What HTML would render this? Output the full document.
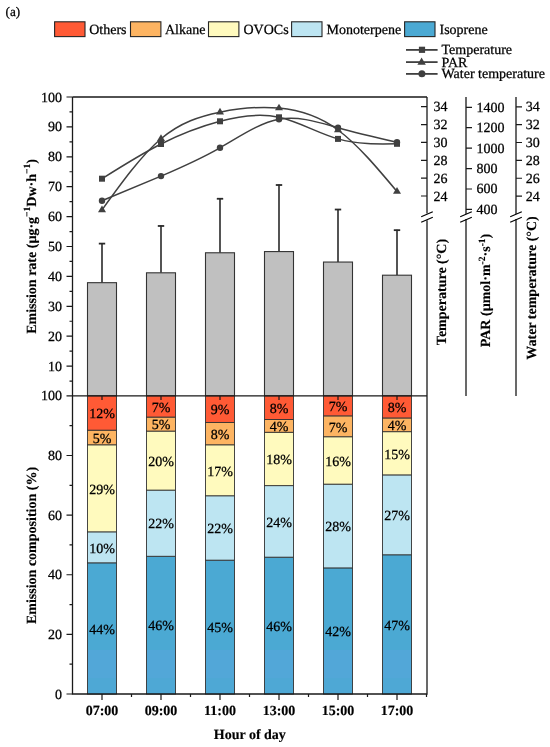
<!DOCTYPE html>
<html><head><meta charset="utf-8"><style>html,body{margin:0;padding:0;background:#fff;width:550px;height:747px;overflow:hidden}</style></head><body>
<svg width="550" height="747" viewBox="0 0 550 747" style="display:block;will-change:transform">
<rect width="550" height="747" fill="#fff"/>
<text x="5.6" y="16" font-family="Liberation Serif" text-rendering="geometricPrecision" stroke="#000" stroke-width="0.25" font-size="13.2" fill="#000">(a)</text>
<rect x="54.6" y="21.8" width="30.4" height="14.8" fill="#FF5A35" stroke="#262626" stroke-width="1.1"/>
<text x="89.2" y="34" font-family="Liberation Serif" text-rendering="geometricPrecision" stroke="#000" stroke-width="0.25" font-size="14" fill="#000">Others</text>
<rect x="130.5" y="21.8" width="30.4" height="14.8" fill="#FDB462" stroke="#262626" stroke-width="1.1"/>
<text x="165" y="34" font-family="Liberation Serif" text-rendering="geometricPrecision" stroke="#000" stroke-width="0.25" font-size="14" fill="#000">Alkane</text>
<rect x="208.5" y="21.8" width="30.4" height="14.8" fill="#FFFABE" stroke="#262626" stroke-width="1.1"/>
<text x="243.5" y="34" font-family="Liberation Serif" text-rendering="geometricPrecision" stroke="#000" stroke-width="0.25" font-size="14" fill="#000">OVOCs</text>
<rect x="291.6" y="21.8" width="30.4" height="14.8" fill="#BDE5F2" stroke="#262626" stroke-width="1.1"/>
<text x="326.5" y="34" font-family="Liberation Serif" text-rendering="geometricPrecision" stroke="#000" stroke-width="0.25" font-size="14" fill="#000">Monoterpene</text>
<rect x="404.6" y="21.8" width="30.4" height="14.8" fill="#4BA9D3" stroke="#262626" stroke-width="1.1"/>
<text x="439.5" y="34" font-family="Liberation Serif" text-rendering="geometricPrecision" stroke="#000" stroke-width="0.25" font-size="14" fill="#000">Isoprene</text>
<line x1="406" y1="49.9" x2="437.6" y2="49.9" stroke="#404040" stroke-width="1.8"/>
<text x="441.5" y="54.4" font-family="Liberation Serif" text-rendering="geometricPrecision" stroke="#000" stroke-width="0.25" font-size="14" fill="#000">Temperature</text>
<line x1="406" y1="62.1" x2="437.6" y2="62.1" stroke="#404040" stroke-width="1.8"/>
<text x="441.5" y="66.6" font-family="Liberation Serif" text-rendering="geometricPrecision" stroke="#000" stroke-width="0.25" font-size="14" fill="#000">PAR</text>
<line x1="406" y1="73.9" x2="437.6" y2="73.9" stroke="#404040" stroke-width="1.8"/>
<text x="441.5" y="78.4" font-family="Liberation Serif" text-rendering="geometricPrecision" stroke="#000" stroke-width="0.25" font-size="14" fill="#000">Water temperature</text>
<rect x="418.9" y="46.7" width="6.2" height="6.2" fill="#404040"/>
<path d="M417.4,64.8 L425.8,64.8 L421.6,57.4Z" fill="#404040"/>
<circle cx="421.9" cy="73.8" r="3.5" fill="#404040"/>
<line x1="102.00" y1="282.68" x2="102.00" y2="243.21" stroke="#2a2a2a" stroke-width="1.6"/>
<line x1="98.80" y1="243.61" x2="105.20" y2="243.61" stroke="#2a2a2a" stroke-width="1.8"/>
<rect x="87.50" y="282.68" width="29" height="113.32" fill="#C0C0C0" stroke="#333" stroke-width="1.1"/>
<line x1="161.00" y1="272.81" x2="161.00" y2="225.57" stroke="#2a2a2a" stroke-width="1.6"/>
<line x1="157.80" y1="225.97" x2="164.20" y2="225.97" stroke="#2a2a2a" stroke-width="1.8"/>
<rect x="146.50" y="272.81" width="29" height="123.19" fill="#C0C0C0" stroke="#333" stroke-width="1.1"/>
<line x1="220.00" y1="252.78" x2="220.00" y2="198.36" stroke="#2a2a2a" stroke-width="1.6"/>
<line x1="216.80" y1="198.76" x2="223.20" y2="198.76" stroke="#2a2a2a" stroke-width="1.8"/>
<rect x="205.50" y="252.78" width="29" height="143.22" fill="#C0C0C0" stroke="#333" stroke-width="1.1"/>
<line x1="279.00" y1="251.58" x2="279.00" y2="184.61" stroke="#2a2a2a" stroke-width="1.6"/>
<line x1="275.80" y1="185.01" x2="282.20" y2="185.01" stroke="#2a2a2a" stroke-width="1.8"/>
<rect x="264.50" y="251.58" width="29" height="144.42" fill="#C0C0C0" stroke="#333" stroke-width="1.1"/>
<line x1="338.00" y1="262.05" x2="338.00" y2="209.12" stroke="#2a2a2a" stroke-width="1.6"/>
<line x1="334.80" y1="209.53" x2="341.20" y2="209.53" stroke="#2a2a2a" stroke-width="1.8"/>
<rect x="323.50" y="262.05" width="29" height="133.95" fill="#C0C0C0" stroke="#333" stroke-width="1.1"/>
<line x1="397.00" y1="275.20" x2="397.00" y2="229.76" stroke="#2a2a2a" stroke-width="1.6"/>
<line x1="393.80" y1="230.16" x2="400.20" y2="230.16" stroke="#2a2a2a" stroke-width="1.8"/>
<rect x="382.50" y="275.20" width="29" height="120.80" fill="#C0C0C0" stroke="#333" stroke-width="1.1"/>
<rect x="87.50" y="562.84" width="29" height="131.16" fill="#4BA9D3" stroke="#333" stroke-width="0.9"/>
<rect x="88.00" y="650" width="28" height="43.50" fill="#52A7D8"/>
<rect x="88.00" y="678" width="28" height="15.50" fill="#4EA8D5"/>
<rect x="87.50" y="531.83" width="29" height="31.00" fill="#BDE5F2" stroke="#333" stroke-width="0.9"/>
<rect x="87.50" y="444.79" width="29" height="87.05" fill="#FFFABE" stroke="#333" stroke-width="0.9"/>
<rect x="87.50" y="430.18" width="29" height="14.61" fill="#FDB462" stroke="#333" stroke-width="0.9"/>
<rect x="87.50" y="395.90" width="29" height="34.28" fill="#FF5A35" stroke="#333" stroke-width="0.9"/>
<text x="102.00" y="633.72" font-family="Liberation Serif" text-rendering="geometricPrecision" stroke="#000" stroke-width="0.25" font-size="14" text-anchor="middle" fill="#000">44%</text>
<text x="102.00" y="552.63" font-family="Liberation Serif" text-rendering="geometricPrecision" stroke="#000" stroke-width="0.25" font-size="14" text-anchor="middle" fill="#000">10%</text>
<text x="102.00" y="493.61" font-family="Liberation Serif" text-rendering="geometricPrecision" stroke="#000" stroke-width="0.25" font-size="14" text-anchor="middle" fill="#000">29%</text>
<text x="102.00" y="442.78" font-family="Liberation Serif" text-rendering="geometricPrecision" stroke="#000" stroke-width="0.25" font-size="14" text-anchor="middle" fill="#000">5%</text>
<text x="102.00" y="418.34" font-family="Liberation Serif" text-rendering="geometricPrecision" stroke="#000" stroke-width="0.25" font-size="14" text-anchor="middle" fill="#000">12%</text>
<rect x="146.50" y="556.28" width="29" height="137.72" fill="#4BA9D3" stroke="#333" stroke-width="0.9"/>
<rect x="147.00" y="650" width="28" height="43.50" fill="#52A7D8"/>
<rect x="147.00" y="678" width="28" height="15.50" fill="#4EA8D5"/>
<rect x="146.50" y="490.10" width="29" height="66.18" fill="#BDE5F2" stroke="#333" stroke-width="0.9"/>
<rect x="146.50" y="431.08" width="29" height="59.02" fill="#FFFABE" stroke="#333" stroke-width="0.9"/>
<rect x="146.50" y="417.07" width="29" height="14.01" fill="#FDB462" stroke="#333" stroke-width="0.9"/>
<rect x="146.50" y="395.90" width="29" height="21.17" fill="#FF5A35" stroke="#333" stroke-width="0.9"/>
<text x="161.00" y="630.44" font-family="Liberation Serif" text-rendering="geometricPrecision" stroke="#000" stroke-width="0.25" font-size="14" text-anchor="middle" fill="#000">46%</text>
<text x="161.00" y="528.49" font-family="Liberation Serif" text-rendering="geometricPrecision" stroke="#000" stroke-width="0.25" font-size="14" text-anchor="middle" fill="#000">22%</text>
<text x="161.00" y="465.89" font-family="Liberation Serif" text-rendering="geometricPrecision" stroke="#000" stroke-width="0.25" font-size="14" text-anchor="middle" fill="#000">20%</text>
<text x="161.00" y="429.37" font-family="Liberation Serif" text-rendering="geometricPrecision" stroke="#000" stroke-width="0.25" font-size="14" text-anchor="middle" fill="#000">5%</text>
<text x="161.00" y="411.78" font-family="Liberation Serif" text-rendering="geometricPrecision" stroke="#000" stroke-width="0.25" font-size="14" text-anchor="middle" fill="#000">7%</text>
<rect x="205.50" y="560.15" width="29" height="133.85" fill="#4BA9D3" stroke="#333" stroke-width="0.9"/>
<rect x="206.00" y="650" width="28" height="43.50" fill="#52A7D8"/>
<rect x="206.00" y="678" width="28" height="15.50" fill="#4EA8D5"/>
<rect x="205.50" y="495.76" width="29" height="64.39" fill="#BDE5F2" stroke="#333" stroke-width="0.9"/>
<rect x="205.50" y="444.79" width="29" height="50.98" fill="#FFFABE" stroke="#333" stroke-width="0.9"/>
<rect x="205.50" y="422.43" width="29" height="22.36" fill="#FDB462" stroke="#333" stroke-width="0.9"/>
<rect x="205.50" y="395.90" width="29" height="26.53" fill="#FF5A35" stroke="#333" stroke-width="0.9"/>
<text x="220.00" y="632.38" font-family="Liberation Serif" text-rendering="geometricPrecision" stroke="#000" stroke-width="0.25" font-size="14" text-anchor="middle" fill="#000">45%</text>
<text x="220.00" y="533.26" font-family="Liberation Serif" text-rendering="geometricPrecision" stroke="#000" stroke-width="0.25" font-size="14" text-anchor="middle" fill="#000">22%</text>
<text x="220.00" y="475.58" font-family="Liberation Serif" text-rendering="geometricPrecision" stroke="#000" stroke-width="0.25" font-size="14" text-anchor="middle" fill="#000">17%</text>
<text x="220.00" y="438.91" font-family="Liberation Serif" text-rendering="geometricPrecision" stroke="#000" stroke-width="0.25" font-size="14" text-anchor="middle" fill="#000">8%</text>
<text x="220.00" y="414.47" font-family="Liberation Serif" text-rendering="geometricPrecision" stroke="#000" stroke-width="0.25" font-size="14" text-anchor="middle" fill="#000">9%</text>
<rect x="264.50" y="557.17" width="29" height="136.83" fill="#4BA9D3" stroke="#333" stroke-width="0.9"/>
<rect x="265.00" y="650" width="28" height="43.50" fill="#52A7D8"/>
<rect x="265.00" y="678" width="28" height="15.50" fill="#4EA8D5"/>
<rect x="264.50" y="485.63" width="29" height="71.54" fill="#BDE5F2" stroke="#333" stroke-width="0.9"/>
<rect x="264.50" y="432.27" width="29" height="53.36" fill="#FFFABE" stroke="#333" stroke-width="0.9"/>
<rect x="264.50" y="419.45" width="29" height="12.82" fill="#FDB462" stroke="#333" stroke-width="0.9"/>
<rect x="264.50" y="395.90" width="29" height="23.55" fill="#FF5A35" stroke="#333" stroke-width="0.9"/>
<text x="279.00" y="630.89" font-family="Liberation Serif" text-rendering="geometricPrecision" stroke="#000" stroke-width="0.25" font-size="14" text-anchor="middle" fill="#000">46%</text>
<text x="279.00" y="526.70" font-family="Liberation Serif" text-rendering="geometricPrecision" stroke="#000" stroke-width="0.25" font-size="14" text-anchor="middle" fill="#000">24%</text>
<text x="279.00" y="464.25" font-family="Liberation Serif" text-rendering="geometricPrecision" stroke="#000" stroke-width="0.25" font-size="14" text-anchor="middle" fill="#000">18%</text>
<text x="279.00" y="431.16" font-family="Liberation Serif" text-rendering="geometricPrecision" stroke="#000" stroke-width="0.25" font-size="14" text-anchor="middle" fill="#000">4%</text>
<text x="279.00" y="412.97" font-family="Liberation Serif" text-rendering="geometricPrecision" stroke="#000" stroke-width="0.25" font-size="14" text-anchor="middle" fill="#000">8%</text>
<rect x="323.50" y="567.90" width="29" height="126.10" fill="#4BA9D3" stroke="#333" stroke-width="0.9"/>
<rect x="324.00" y="650" width="28" height="43.50" fill="#52A7D8"/>
<rect x="324.00" y="678" width="28" height="15.50" fill="#4EA8D5"/>
<rect x="323.50" y="484.14" width="29" height="83.77" fill="#BDE5F2" stroke="#333" stroke-width="0.9"/>
<rect x="323.50" y="436.74" width="29" height="47.40" fill="#FFFABE" stroke="#333" stroke-width="0.9"/>
<rect x="323.50" y="415.87" width="29" height="20.87" fill="#FDB462" stroke="#333" stroke-width="0.9"/>
<rect x="323.50" y="395.90" width="29" height="19.97" fill="#FF5A35" stroke="#333" stroke-width="0.9"/>
<text x="338.00" y="636.25" font-family="Liberation Serif" text-rendering="geometricPrecision" stroke="#000" stroke-width="0.25" font-size="14" text-anchor="middle" fill="#000">42%</text>
<text x="338.00" y="531.32" font-family="Liberation Serif" text-rendering="geometricPrecision" stroke="#000" stroke-width="0.25" font-size="14" text-anchor="middle" fill="#000">28%</text>
<text x="338.00" y="465.74" font-family="Liberation Serif" text-rendering="geometricPrecision" stroke="#000" stroke-width="0.25" font-size="14" text-anchor="middle" fill="#000">16%</text>
<text x="338.00" y="431.61" font-family="Liberation Serif" text-rendering="geometricPrecision" stroke="#000" stroke-width="0.25" font-size="14" text-anchor="middle" fill="#000">7%</text>
<text x="338.00" y="411.19" font-family="Liberation Serif" text-rendering="geometricPrecision" stroke="#000" stroke-width="0.25" font-size="14" text-anchor="middle" fill="#000">7%</text>
<rect x="382.50" y="554.79" width="29" height="139.21" fill="#4BA9D3" stroke="#333" stroke-width="0.9"/>
<rect x="383.00" y="650" width="28" height="43.50" fill="#52A7D8"/>
<rect x="383.00" y="678" width="28" height="15.50" fill="#4EA8D5"/>
<rect x="382.50" y="474.90" width="29" height="79.89" fill="#BDE5F2" stroke="#333" stroke-width="0.9"/>
<rect x="382.50" y="431.67" width="29" height="43.22" fill="#FFFABE" stroke="#333" stroke-width="0.9"/>
<rect x="382.50" y="417.96" width="29" height="13.71" fill="#FDB462" stroke="#333" stroke-width="0.9"/>
<rect x="382.50" y="395.90" width="29" height="22.06" fill="#FF5A35" stroke="#333" stroke-width="0.9"/>
<text x="397.00" y="629.69" font-family="Liberation Serif" text-rendering="geometricPrecision" stroke="#000" stroke-width="0.25" font-size="14" text-anchor="middle" fill="#000">47%</text>
<text x="397.00" y="520.14" font-family="Liberation Serif" text-rendering="geometricPrecision" stroke="#000" stroke-width="0.25" font-size="14" text-anchor="middle" fill="#000">27%</text>
<text x="397.00" y="458.58" font-family="Liberation Serif" text-rendering="geometricPrecision" stroke="#000" stroke-width="0.25" font-size="14" text-anchor="middle" fill="#000">15%</text>
<text x="397.00" y="430.12" font-family="Liberation Serif" text-rendering="geometricPrecision" stroke="#000" stroke-width="0.25" font-size="14" text-anchor="middle" fill="#000">4%</text>
<text x="397.00" y="412.23" font-family="Liberation Serif" text-rendering="geometricPrecision" stroke="#000" stroke-width="0.25" font-size="14" text-anchor="middle" fill="#000">8%</text>
<g stroke="#1a1a1a" stroke-width="1.3" fill="none">
<path d="M72.5,97 H427 M72.5,97 V694 H427 V395.9 M72.5,395.9 H427"/>
<path d="M427,97 V213.4 M427,220.2 V395.9"/>
</g>
<path d="M66.5,396.00H72.5 M69.5,381.05H72.5 M66.5,366.10H72.5 M69.5,351.15H72.5 M66.5,336.20H72.5 M69.5,321.25H72.5 M66.5,306.30H72.5 M69.5,291.35H72.5 M66.5,276.40H72.5 M69.5,261.45H72.5 M66.5,246.50H72.5 M69.5,231.55H72.5 M66.5,216.60H72.5 M69.5,201.65H72.5 M66.5,186.70H72.5 M69.5,171.75H72.5 M66.5,156.80H72.5 M69.5,141.85H72.5 M66.5,126.90H72.5 M69.5,111.95H72.5 M66.5,97.00H72.5 M66.5,694.00H72.5 M69.5,664.19H72.5 M66.5,634.38H72.5 M69.5,604.57H72.5 M66.5,574.76H72.5 M69.5,544.95H72.5 M66.5,515.14H72.5 M69.5,485.33H72.5 M66.5,455.52H72.5 M69.5,425.71H72.5 M66.5,395.90H72.5 M102.00,694v6 M102.00,395.9v4 M161.00,694v6 M161.00,395.9v4 M220.00,694v6 M220.00,395.9v4 M279.00,694v6 M279.00,395.9v4 M338.00,694v6 M338.00,395.9v4 M397.00,694v6 M397.00,395.9v4 M131.50,694v3 M190.50,694v3 M249.50,694v3 M308.50,694v3 M367.50,694v3 M426.50,694v3 M421,196.00H427 M421,178.14H427 M421,160.28H427 M421,142.42H427 M421,124.56H427 M421,106.70H427" stroke="#1a1a1a" stroke-width="1.2" fill="none"/>
<text x="62" y="370.60" font-family="Liberation Serif" text-rendering="geometricPrecision" stroke="#000" stroke-width="0.25" font-size="14" text-anchor="end" fill="#000">10</text>
<text x="62" y="340.70" font-family="Liberation Serif" text-rendering="geometricPrecision" stroke="#000" stroke-width="0.25" font-size="14" text-anchor="end" fill="#000">20</text>
<text x="62" y="310.80" font-family="Liberation Serif" text-rendering="geometricPrecision" stroke="#000" stroke-width="0.25" font-size="14" text-anchor="end" fill="#000">30</text>
<text x="62" y="280.90" font-family="Liberation Serif" text-rendering="geometricPrecision" stroke="#000" stroke-width="0.25" font-size="14" text-anchor="end" fill="#000">40</text>
<text x="62" y="251.00" font-family="Liberation Serif" text-rendering="geometricPrecision" stroke="#000" stroke-width="0.25" font-size="14" text-anchor="end" fill="#000">50</text>
<text x="62" y="221.10" font-family="Liberation Serif" text-rendering="geometricPrecision" stroke="#000" stroke-width="0.25" font-size="14" text-anchor="end" fill="#000">60</text>
<text x="62" y="191.20" font-family="Liberation Serif" text-rendering="geometricPrecision" stroke="#000" stroke-width="0.25" font-size="14" text-anchor="end" fill="#000">70</text>
<text x="62" y="161.30" font-family="Liberation Serif" text-rendering="geometricPrecision" stroke="#000" stroke-width="0.25" font-size="14" text-anchor="end" fill="#000">80</text>
<text x="62" y="131.40" font-family="Liberation Serif" text-rendering="geometricPrecision" stroke="#000" stroke-width="0.25" font-size="14" text-anchor="end" fill="#000">90</text>
<text x="62" y="101.50" font-family="Liberation Serif" text-rendering="geometricPrecision" stroke="#000" stroke-width="0.25" font-size="14" text-anchor="end" fill="#000">100</text>
<text x="62" y="698.50" font-family="Liberation Serif" text-rendering="geometricPrecision" stroke="#000" stroke-width="0.25" font-size="14" text-anchor="end" fill="#000">0</text>
<text x="62" y="638.88" font-family="Liberation Serif" text-rendering="geometricPrecision" stroke="#000" stroke-width="0.25" font-size="14" text-anchor="end" fill="#000">20</text>
<text x="62" y="579.26" font-family="Liberation Serif" text-rendering="geometricPrecision" stroke="#000" stroke-width="0.25" font-size="14" text-anchor="end" fill="#000">40</text>
<text x="62" y="519.64" font-family="Liberation Serif" text-rendering="geometricPrecision" stroke="#000" stroke-width="0.25" font-size="14" text-anchor="end" fill="#000">60</text>
<text x="62" y="460.02" font-family="Liberation Serif" text-rendering="geometricPrecision" stroke="#000" stroke-width="0.25" font-size="14" text-anchor="end" fill="#000">80</text>
<text x="62" y="400.40" font-family="Liberation Serif" text-rendering="geometricPrecision" stroke="#000" stroke-width="0.25" font-size="14" text-anchor="end" fill="#000">100</text>
<text x="433.5" y="200.50" font-family="Liberation Serif" text-rendering="geometricPrecision" stroke="#000" stroke-width="0.25" font-size="14" fill="#000">24</text>
<text x="433.5" y="182.64" font-family="Liberation Serif" text-rendering="geometricPrecision" stroke="#000" stroke-width="0.25" font-size="14" fill="#000">26</text>
<text x="433.5" y="164.78" font-family="Liberation Serif" text-rendering="geometricPrecision" stroke="#000" stroke-width="0.25" font-size="14" fill="#000">28</text>
<text x="433.5" y="146.92" font-family="Liberation Serif" text-rendering="geometricPrecision" stroke="#000" stroke-width="0.25" font-size="14" fill="#000">30</text>
<text x="433.5" y="129.06" font-family="Liberation Serif" text-rendering="geometricPrecision" stroke="#000" stroke-width="0.25" font-size="14" fill="#000">32</text>
<text x="433.5" y="111.20" font-family="Liberation Serif" text-rendering="geometricPrecision" stroke="#000" stroke-width="0.25" font-size="14" fill="#000">34</text>
<path d="M466,97 V213.9 M466,219 V396" stroke="#1a1a1a" stroke-width="1.3" fill="none"/>
<path d="M466,209.40h6 M466,188.98h6 M466,168.56h6 M466,148.14h6 M466,127.72h6 M466,107.30h6" stroke="#1a1a1a" stroke-width="1.2" fill="none"/>
<text x="476.5" y="213.90" font-family="Liberation Serif" text-rendering="geometricPrecision" stroke="#000" stroke-width="0.25" font-size="14" fill="#000">400</text>
<text x="476.5" y="193.48" font-family="Liberation Serif" text-rendering="geometricPrecision" stroke="#000" stroke-width="0.25" font-size="14" fill="#000">600</text>
<text x="476.5" y="173.06" font-family="Liberation Serif" text-rendering="geometricPrecision" stroke="#000" stroke-width="0.25" font-size="14" fill="#000">800</text>
<text x="476.5" y="152.64" font-family="Liberation Serif" text-rendering="geometricPrecision" stroke="#000" stroke-width="0.25" font-size="14" fill="#000">1000</text>
<text x="476.5" y="132.22" font-family="Liberation Serif" text-rendering="geometricPrecision" stroke="#000" stroke-width="0.25" font-size="14" fill="#000">1200</text>
<text x="476.5" y="111.80" font-family="Liberation Serif" text-rendering="geometricPrecision" stroke="#000" stroke-width="0.25" font-size="14" fill="#000">1400</text>
<path d="M516,97 V213.9 M516,219 V396" stroke="#1a1a1a" stroke-width="1.3" fill="none"/>
<path d="M516,196.10h6 M516,178.24h6 M516,160.38h6 M516,142.52h6 M516,124.66h6 M516,106.80h6" stroke="#1a1a1a" stroke-width="1.2" fill="none"/>
<text x="525.8" y="200.60" font-family="Liberation Serif" text-rendering="geometricPrecision" stroke="#000" stroke-width="0.25" font-size="14" fill="#000">24</text>
<text x="525.8" y="182.74" font-family="Liberation Serif" text-rendering="geometricPrecision" stroke="#000" stroke-width="0.25" font-size="14" fill="#000">26</text>
<text x="525.8" y="164.88" font-family="Liberation Serif" text-rendering="geometricPrecision" stroke="#000" stroke-width="0.25" font-size="14" fill="#000">28</text>
<text x="525.8" y="147.02" font-family="Liberation Serif" text-rendering="geometricPrecision" stroke="#000" stroke-width="0.25" font-size="14" fill="#000">30</text>
<text x="525.8" y="129.16" font-family="Liberation Serif" text-rendering="geometricPrecision" stroke="#000" stroke-width="0.25" font-size="14" fill="#000">32</text>
<text x="525.8" y="111.30" font-family="Liberation Serif" text-rendering="geometricPrecision" stroke="#000" stroke-width="0.25" font-size="14" fill="#000">34</text>
<path d="M421.2,216.8 L432.8,211.8 M421.2,222.2 L432.8,217.2" stroke="#000" stroke-width="1.2" fill="none"/>
<path d="M460.2,216.8 L471.8,211.8 M460.2,222.2 L471.8,217.2" stroke="#000" stroke-width="1.2" fill="none"/>
<path d="M510.2,216.8 L521.8,211.8 M510.2,222.2 L521.8,217.2" stroke="#000" stroke-width="1.2" fill="none"/>
<path d="M102.00,178.70 C121.67,166.32 141.33,153.94 161.00,144.00 C180.67,134.06 200.33,126.57 220.00,121.30 C239.67,116.03 259.33,112.99 279.00,117.30 C298.67,121.61 318.33,133.26 338.00,138.90 C357.67,144.54 377.33,144.17 397.00,143.80" stroke="#404040" stroke-width="1.5" fill="none"/>
<rect x="99" y="175.7" width="6" height="6" fill="#404040"/>
<rect x="158" y="141.0" width="6" height="6" fill="#404040"/>
<rect x="217" y="118.3" width="6" height="6" fill="#404040"/>
<rect x="276" y="114.3" width="6" height="6" fill="#404040"/>
<rect x="335" y="135.9" width="6" height="6" fill="#404040"/>
<rect x="394" y="140.8" width="6" height="6" fill="#404040"/>
<path d="M102.00,209.95 C121.67,182.69 141.33,155.43 161.00,138.80 C180.67,122.17 200.33,116.17 220.00,112.20 C239.67,108.23 259.33,106.29 279.00,108.10 C298.67,109.91 318.33,115.47 338.00,130.00 C357.67,144.53 377.33,168.01 397.00,191.50" stroke="#404040" stroke-width="1.5" fill="none"/>
<path d="M98.00,212.20 L106.00,212.20 L102.00,205.50Z" fill="#404040"/>
<path d="M157.00,141.05 L165.00,141.05 L161.00,134.35Z" fill="#404040"/>
<path d="M216.00,114.45 L224.00,114.45 L220.00,107.75Z" fill="#404040"/>
<path d="M275.00,110.35 L283.00,110.35 L279.00,103.65Z" fill="#404040"/>
<path d="M334.00,132.25 L342.00,132.25 L338.00,125.55Z" fill="#404040"/>
<path d="M393.00,193.75 L401.00,193.75 L397.00,187.05Z" fill="#404040"/>
<path d="M102.00,200.70 C121.67,192.60 141.33,184.50 161.00,176.10 C180.67,167.70 200.33,159.00 220.00,147.80 C239.67,136.60 259.33,122.90 279.00,119.30 C298.67,115.70 318.33,122.18 338.00,127.70 C357.67,133.22 377.33,137.76 397.00,142.30" stroke="#404040" stroke-width="1.5" fill="none"/>
<circle cx="102" cy="200.7" r="3.2" fill="#404040"/>
<circle cx="161" cy="176.1" r="3.2" fill="#404040"/>
<circle cx="220" cy="147.8" r="3.2" fill="#404040"/>
<circle cx="279" cy="119.3" r="3.2" fill="#404040"/>
<circle cx="338" cy="127.7" r="3.2" fill="#404040"/>
<circle cx="397" cy="142.3" r="3.2" fill="#404040"/>
<text x="0" y="0" transform="translate(36,246.5) rotate(-90)" font-family="Liberation Serif" text-rendering="geometricPrecision" stroke="#000" stroke-width="0.15" font-size="14" font-weight="bold" text-anchor="middle" fill="#000">Emission rate (µg·g<tspan dy="-6" font-size="9.5">−1</tspan><tspan dy="6">Dw·h</tspan><tspan dy="-6" font-size="9.5">−1</tspan><tspan dy="6">)</tspan></text>
<text x="0" y="0" transform="translate(35.5,545.5) rotate(-90)" font-family="Liberation Serif" text-rendering="geometricPrecision" stroke="#000" stroke-width="0.15" font-size="14" font-weight="bold" text-anchor="middle" fill="#000">Emission composition (%)</text>
<text x="0" y="0" transform="translate(445.5,292) rotate(-90)" font-family="Liberation Serif" text-rendering="geometricPrecision" stroke="#000" stroke-width="0.15" font-size="14" font-weight="bold" text-anchor="middle" fill="#000">Temperature (°C)</text>
<text x="0" y="0" transform="translate(489.8,290.5) rotate(-90)" font-family="Liberation Serif" text-rendering="geometricPrecision" stroke="#000" stroke-width="0.15" font-size="14" font-weight="bold" text-anchor="middle" fill="#000">PAR (µmol·m<tspan dy="-5" font-size="9.5">-2</tspan><tspan dy="5">·s</tspan><tspan dy="-5" font-size="9.5">-1</tspan><tspan dy="5">)</tspan></text>
<text x="0" y="0" transform="translate(535.5,288) rotate(-90)" font-family="Liberation Serif" text-rendering="geometricPrecision" stroke="#000" stroke-width="0.15" font-size="14" font-weight="bold" text-anchor="middle" fill="#000">Water temperature (°C)</text>
<text x="102.00" y="714.6" font-family="Liberation Serif" text-rendering="geometricPrecision" stroke="#000" stroke-width="0.15" font-size="14" font-weight="bold" text-anchor="middle" fill="#000">07:00</text>
<text x="161.00" y="714.6" font-family="Liberation Serif" text-rendering="geometricPrecision" stroke="#000" stroke-width="0.15" font-size="14" font-weight="bold" text-anchor="middle" fill="#000">09:00</text>
<text x="220.00" y="714.6" font-family="Liberation Serif" text-rendering="geometricPrecision" stroke="#000" stroke-width="0.15" font-size="14" font-weight="bold" text-anchor="middle" fill="#000">11:00</text>
<text x="279.00" y="714.6" font-family="Liberation Serif" text-rendering="geometricPrecision" stroke="#000" stroke-width="0.15" font-size="14" font-weight="bold" text-anchor="middle" fill="#000">13:00</text>
<text x="338.00" y="714.6" font-family="Liberation Serif" text-rendering="geometricPrecision" stroke="#000" stroke-width="0.15" font-size="14" font-weight="bold" text-anchor="middle" fill="#000">15:00</text>
<text x="397.00" y="714.6" font-family="Liberation Serif" text-rendering="geometricPrecision" stroke="#000" stroke-width="0.15" font-size="14" font-weight="bold" text-anchor="middle" fill="#000">17:00</text>
<text x="249.8" y="739.3" font-family="Liberation Serif" text-rendering="geometricPrecision" stroke="#000" stroke-width="0.15" font-size="14" font-weight="bold" text-anchor="middle" fill="#000">Hour of day</text>
</svg>
</body></html>
